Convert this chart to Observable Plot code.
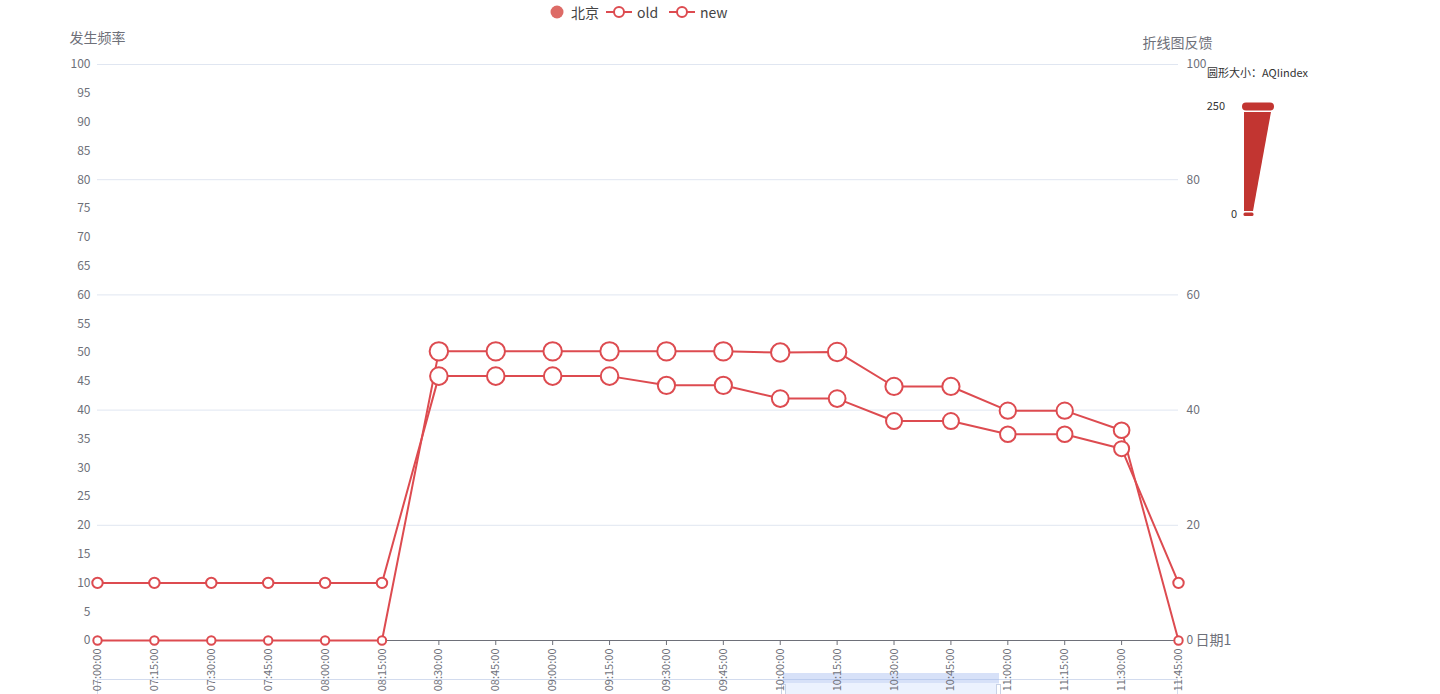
<!DOCTYPE html>
<html>
<head>
<meta charset="utf-8">
<script src="https://cdn.jsdelivr.net/npm/d3@7"></script>
<script src="https://cdn.jsdelivr.net/npm/@observablehq/plot@0.6"></script>
<style>
  html, body { margin: 0; padding: 0; background: #fff; width: 1440px; height: 694px; overflow: hidden; font-family: "Noto Sans CJK SC", "Noto Sans", sans-serif; }
  #wrap { position: relative; width: 1440px; height: 694px; }
  #legend { position: relative; height: 28px; width: 1440px; font-size: 14px; color: #444; }
  #legend .item { position: absolute; top: 0; height: 24px; line-height: 24px; }
  #chart { position: relative; z-index: 1; }
  #chart svg { display: block; background: transparent; }
  #zoom { position: absolute; z-index: 0; left: 97px; top: 679px; width: 1081px; height: 40px; border: 1px solid #d2dbee; box-sizing: border-box; }
  #zoomSel { position: absolute; z-index: 0; left: 783px; top: 673px; width: 216px; height: 50px; background: rgba(170,195,250,0.22); }
  #zoomBand { position: absolute; z-index: 0; left: 783px; top: 673px; width: 216px; height: 10px; background: rgba(150,175,230,0.25); }
  .handle { position: absolute; z-index: 0; top: 684px; width: 5px; height: 16px; background: #fff; border: 1px solid #c8d2e6; box-sizing: border-box; }
  #vmap { position: absolute; left: 0; top: 0; z-index: 2; pointer-events: none; }
</style>
</head>
<body>
<div id="wrap">
  <div id="legend"></div>
  <div id="zoom"></div>
  <div id="zoomSel"></div>
  <div id="zoomBand"></div>
  <div class="handle" style="left:781px"></div>
  <div class="handle" style="left:996px"></div>
  <div id="chart"></div>
  <svg id="vmap" width="1440" height="694"></svg>
</div>
<script>
// ---- data ----
const times = ["07:00:00","07:15:00","07:30:00","07:45:00","08:00:00","08:15:00","08:30:00","08:45:00","09:00:00","09:15:00",
               "09:30:00","09:45:00","10:00:00","10:15:00","10:30:00","10:45:00","11:00:00","11:15:00","11:30:00","11:45:00"];
const oldValues = [0,0,0,0,0,0,50.2,50.2,50.2,50.2,50.2,50.2,50.0,50.1,44.1,44.1,39.9,39.9,36.5,0];
const newValues = [10,10,10,10,10,10,45.9,45.9,45.9,45.9,44.3,44.3,42.0,42.0,38.1,38.1,35.8,35.8,33.3,10];
const seriesNames = ["old","new"];
const leftTicks = [0,5,10,15,20,25,30,35,40,45,50,55,60,65,70,75,80,85,90,95,100];
const rightTicks = [0,20,40,60,80,100];
const sizeDomain = [0,250];

const lineColor = "#dd4b50";
const rows = [
  ...times.map((t,i) => ({time: t, value: oldValues[i], series: seriesNames[0]})),
  ...times.map((t,i) => ({time: t, value: newValues[i], series: seriesNames[1]}))
];

const chart = Plot.plot({
  width: 1440,
  height: 666,
  marginTop: 36,
  marginBottom: 54,
  marginLeft: 97,
  marginRight: 262,
  style: {fontFamily: "'Noto Sans CJK SC', 'Noto Sans', sans-serif", fontSize: "12px", color: "#6e7079", background: "transparent", overflow: "visible"},
  x: {type: "point", domain: times, padding: 0, round: false},
  y: {domain: [0,100]},
  r: {type: "linear", domain: sizeDomain, range: [4.2, 29.2]},
  marks: [
    Plot.gridY(rightTicks.filter(d => d > 0), {stroke: "#e0e6f1", strokeOpacity: 1}),
    Plot.ruleY([0], {stroke: "#6e7079", strokeWidth: 1}),
    Plot.axisY({anchor: "left", ticks: leftTicks, tickSize: 0, tickPadding: 7, label: null, fontSize: 12}),
    Plot.axisY({anchor: "right", ticks: rightTicks, tickSize: 0, tickPadding: 8, label: null, fontSize: 12}),
    Plot.axisX({tickRotate: -90, tickSize: 5, tickPadding: 3, label: null, fontSize: 11}),
    Plot.line(rows, {x: "time", y: "value", z: "series", stroke: lineColor, strokeWidth: 2}),
    Plot.dot(rows, {x: "time", y: "value", r: "value", fill: "white", stroke: lineColor, strokeWidth: 2}),
    Plot.text(["发生频率"], {frameAnchor: "top-left", textAnchor: "start", lineAnchor: "middle", dx: -28, dy: -26, fontSize: 14, fill: "#6e7079"}),
    Plot.text(["折线图反馈"], {frameAnchor: "top-right", textAnchor: "start", lineAnchor: "middle", dx: -36, dy: -21, fontSize: 14, fill: "#6e7079"}),
    Plot.text(["日期1"], {frameAnchor: "bottom-right", textAnchor: "start", lineAnchor: "middle", dx: 17, dy: 0, fontSize: 14, fill: "#6e7079"})
  ]
});
document.getElementById("chart").appendChild(chart);

// ---- legend ----
const legend = d3.select("#legend");
const legendItems = [{name: "北京", kind: "dot", left: 549}, {name: seriesNames[0], kind: "line", left: 605}, {name: seriesNames[1], kind: "line", left: 668}];
legendItems.forEach(it => {
  const item = legend.append("div").attr("class", "item").style("left", it.left + "px");
  const s = item.append("svg").attr("width", it.kind === "dot" ? 22 : 32).attr("height", 24).style("vertical-align", "top").style("display", "inline-block");
  if (it.kind === "dot") {
    s.append("circle").attr("cx", 8).attr("cy", 12).attr("r", 6.5).attr("fill", "#dd6b66");
  } else {
    s.append("line").attr("x1", 1).attr("x2", 27).attr("y1", 12).attr("y2", 12).attr("stroke", lineColor).attr("stroke-width", 2);
    s.append("circle").attr("cx", 14).attr("cy", 12).attr("r", 5).attr("fill", "#fff").attr("stroke", lineColor).attr("stroke-width", 2);
  }
  item.append("span").text(it.name).style("vertical-align", "top");
});

// ---- visualMap (size legend) ----
const vm = d3.select("#vmap");
vm.append("text").attr("x", 1207).attr("y", 73).attr("dy", "0.35em").attr("font-size", 11).attr("fill", "#333").text("圆形大小：AQIindex");
vm.append("text").attr("x", 1225).attr("y", 106).attr("dy", "0.35em").attr("text-anchor", "end").attr("font-size", 11).attr("fill", "#333").text(String(sizeDomain[1]));
vm.append("text").attr("x", 1237).attr("y", 214).attr("dy", "0.35em").attr("text-anchor", "end").attr("font-size", 11).attr("fill", "#333").text(String(sizeDomain[0]));
vm.append("rect").attr("x", 1242).attr("y", 102.5).attr("width", 32).attr("height", 8).attr("rx", 4).attr("fill", "#c23531");
vm.append("polygon").attr("points", "1244,112 1271,112 1253,211 1244,211").attr("fill", "#c23531");
vm.append("rect").attr("x", 1243.5).attr("y", 212.5).attr("width", 10).attr("height", 3.5).attr("rx", 1.5).attr("fill", "#c23531");
</script>
</body>
</html>
